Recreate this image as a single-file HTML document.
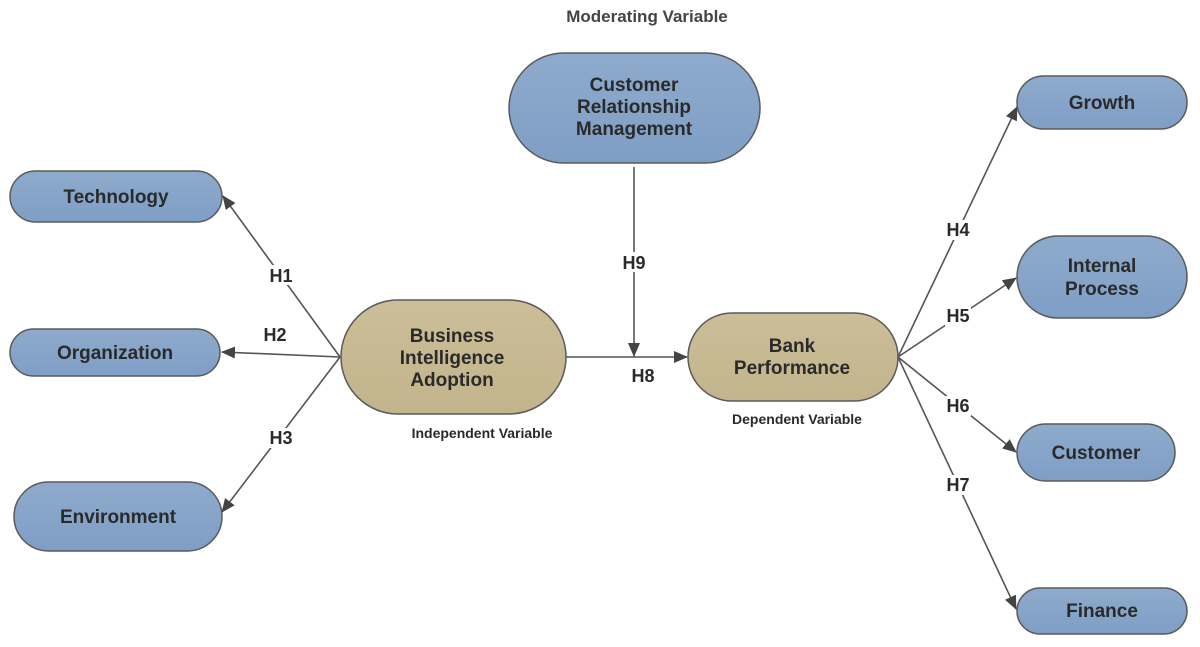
<!DOCTYPE html>
<html><head><meta charset="utf-8"><style>
html,body{margin:0;padding:0;background:#fff;}
svg{display:block;}
text{font-family:"Liberation Sans",Arial,sans-serif;font-weight:bold;fill:#2a2a2a;}
</style></head><body>
<svg width="1200" height="647" viewBox="0 0 1200 647" xmlns="http://www.w3.org/2000/svg">
<defs>
<marker id="a" markerWidth="14" markerHeight="14" refX="13" refY="7" orient="auto" markerUnits="userSpaceOnUse">
<path d="M0,1 L14,7 L0,13 z" fill="#444"/>
</marker>
<linearGradient id="bl" x1="0" y1="0" x2="0" y2="1"><stop offset="0" stop-color="#8eabcc"/><stop offset="1" stop-color="#7f9ec6"/></linearGradient>
<linearGradient id="tn" x1="0" y1="0" x2="0" y2="1"><stop offset="0" stop-color="#cbbe98"/><stop offset="1" stop-color="#c2b48c"/></linearGradient>
</defs>
<text x="647" y="22" text-anchor="middle" font-size="17" style="fill:#444">Moderating Variable</text>

<g stroke="#555" stroke-width="1.6" fill="none">
<line x1="340" y1="357" x2="223" y2="196" marker-end="url(#a)"/>
<line x1="340" y1="357" x2="222" y2="352" marker-end="url(#a)"/>
<line x1="340" y1="357" x2="222" y2="512" marker-end="url(#a)"/>
<line x1="566" y1="357" x2="687" y2="357" marker-end="url(#a)"/>
<line x1="634" y1="167" x2="634" y2="356" marker-end="url(#a)"/>
<line x1="898" y1="357" x2="1017" y2="107" marker-end="url(#a)"/>
<line x1="898" y1="357" x2="1016" y2="278" marker-end="url(#a)"/>
<line x1="898" y1="357" x2="1016" y2="452" marker-end="url(#a)"/>
<line x1="898" y1="357" x2="1016" y2="609" marker-end="url(#a)"/>
</g>

<g stroke="#5a5a5a" stroke-width="1.5">
<rect x="10" y="171" width="212" height="51" rx="25.5" fill="url(#bl)"/>
<rect x="10" y="329" width="210" height="47" rx="23.5" fill="url(#bl)"/>
<rect x="14" y="482" width="208" height="69" rx="34.5" fill="url(#bl)"/>
<rect x="509" y="53" width="251" height="110" rx="55" fill="url(#bl)"/>
<rect x="1017" y="76" width="170" height="53" rx="26.5" fill="url(#bl)"/>
<rect x="1017" y="236" width="170" height="82" rx="41" fill="url(#bl)"/>
<rect x="1017" y="424" width="158" height="57" rx="28.5" fill="url(#bl)"/>
<rect x="1017" y="588" width="170" height="46" rx="23" fill="url(#bl)"/>
<rect x="341" y="300" width="225" height="114" rx="57" fill="url(#tn)"/>
<rect x="688" y="313" width="210" height="88" rx="44" fill="url(#tn)"/>
</g>

<g fill="#fff">
<rect x="268" y="265" width="26" height="20"/>
<rect x="261" y="324" width="28" height="20"/>
<rect x="268" y="428" width="26" height="20"/>
<rect x="621" y="252" width="26" height="20"/>
<rect x="945" y="220" width="26" height="20"/>
<rect x="945" y="306" width="26" height="20"/>
<rect x="945" y="396" width="26" height="20"/>
<rect x="945" y="475" width="26" height="20"/>
</g>

<g font-size="18" text-anchor="middle">
<text x="281" y="282">H1</text>
<text x="275" y="341">H2</text>
<text x="281" y="444">H3</text>
<text x="634" y="269">H9</text>
<text x="643" y="382">H8</text>
<text x="958" y="236">H4</text>
<text x="958" y="322">H5</text>
<text x="958" y="412">H6</text>
<text x="958" y="491">H7</text>
</g>

<g font-size="19" text-anchor="middle">
<text x="116" y="203">Technology</text>
<text x="115" y="359">Organization</text>
<text x="118" y="523">Environment</text>
<text x="634" y="91">Customer</text>
<text x="634" y="113">Relationship</text>
<text x="634" y="135">Management</text>
<text x="452" y="342">Business</text>
<text x="452" y="364">Intelligence</text>
<text x="452" y="386">Adoption</text>
<text x="792" y="352">Bank</text>
<text x="792" y="374">Performance</text>
<text x="1102" y="109">Growth</text>
<text x="1102" y="272">Internal</text>
<text x="1102" y="295">Process</text>
<text x="1096" y="459">Customer</text>
<text x="1102" y="617">Finance</text>
</g>
<g font-size="14" text-anchor="middle">
<text x="482" y="438">Independent Variable</text>
<text x="797" y="424">Dependent Variable</text>
</g>
</svg>
</body></html>
